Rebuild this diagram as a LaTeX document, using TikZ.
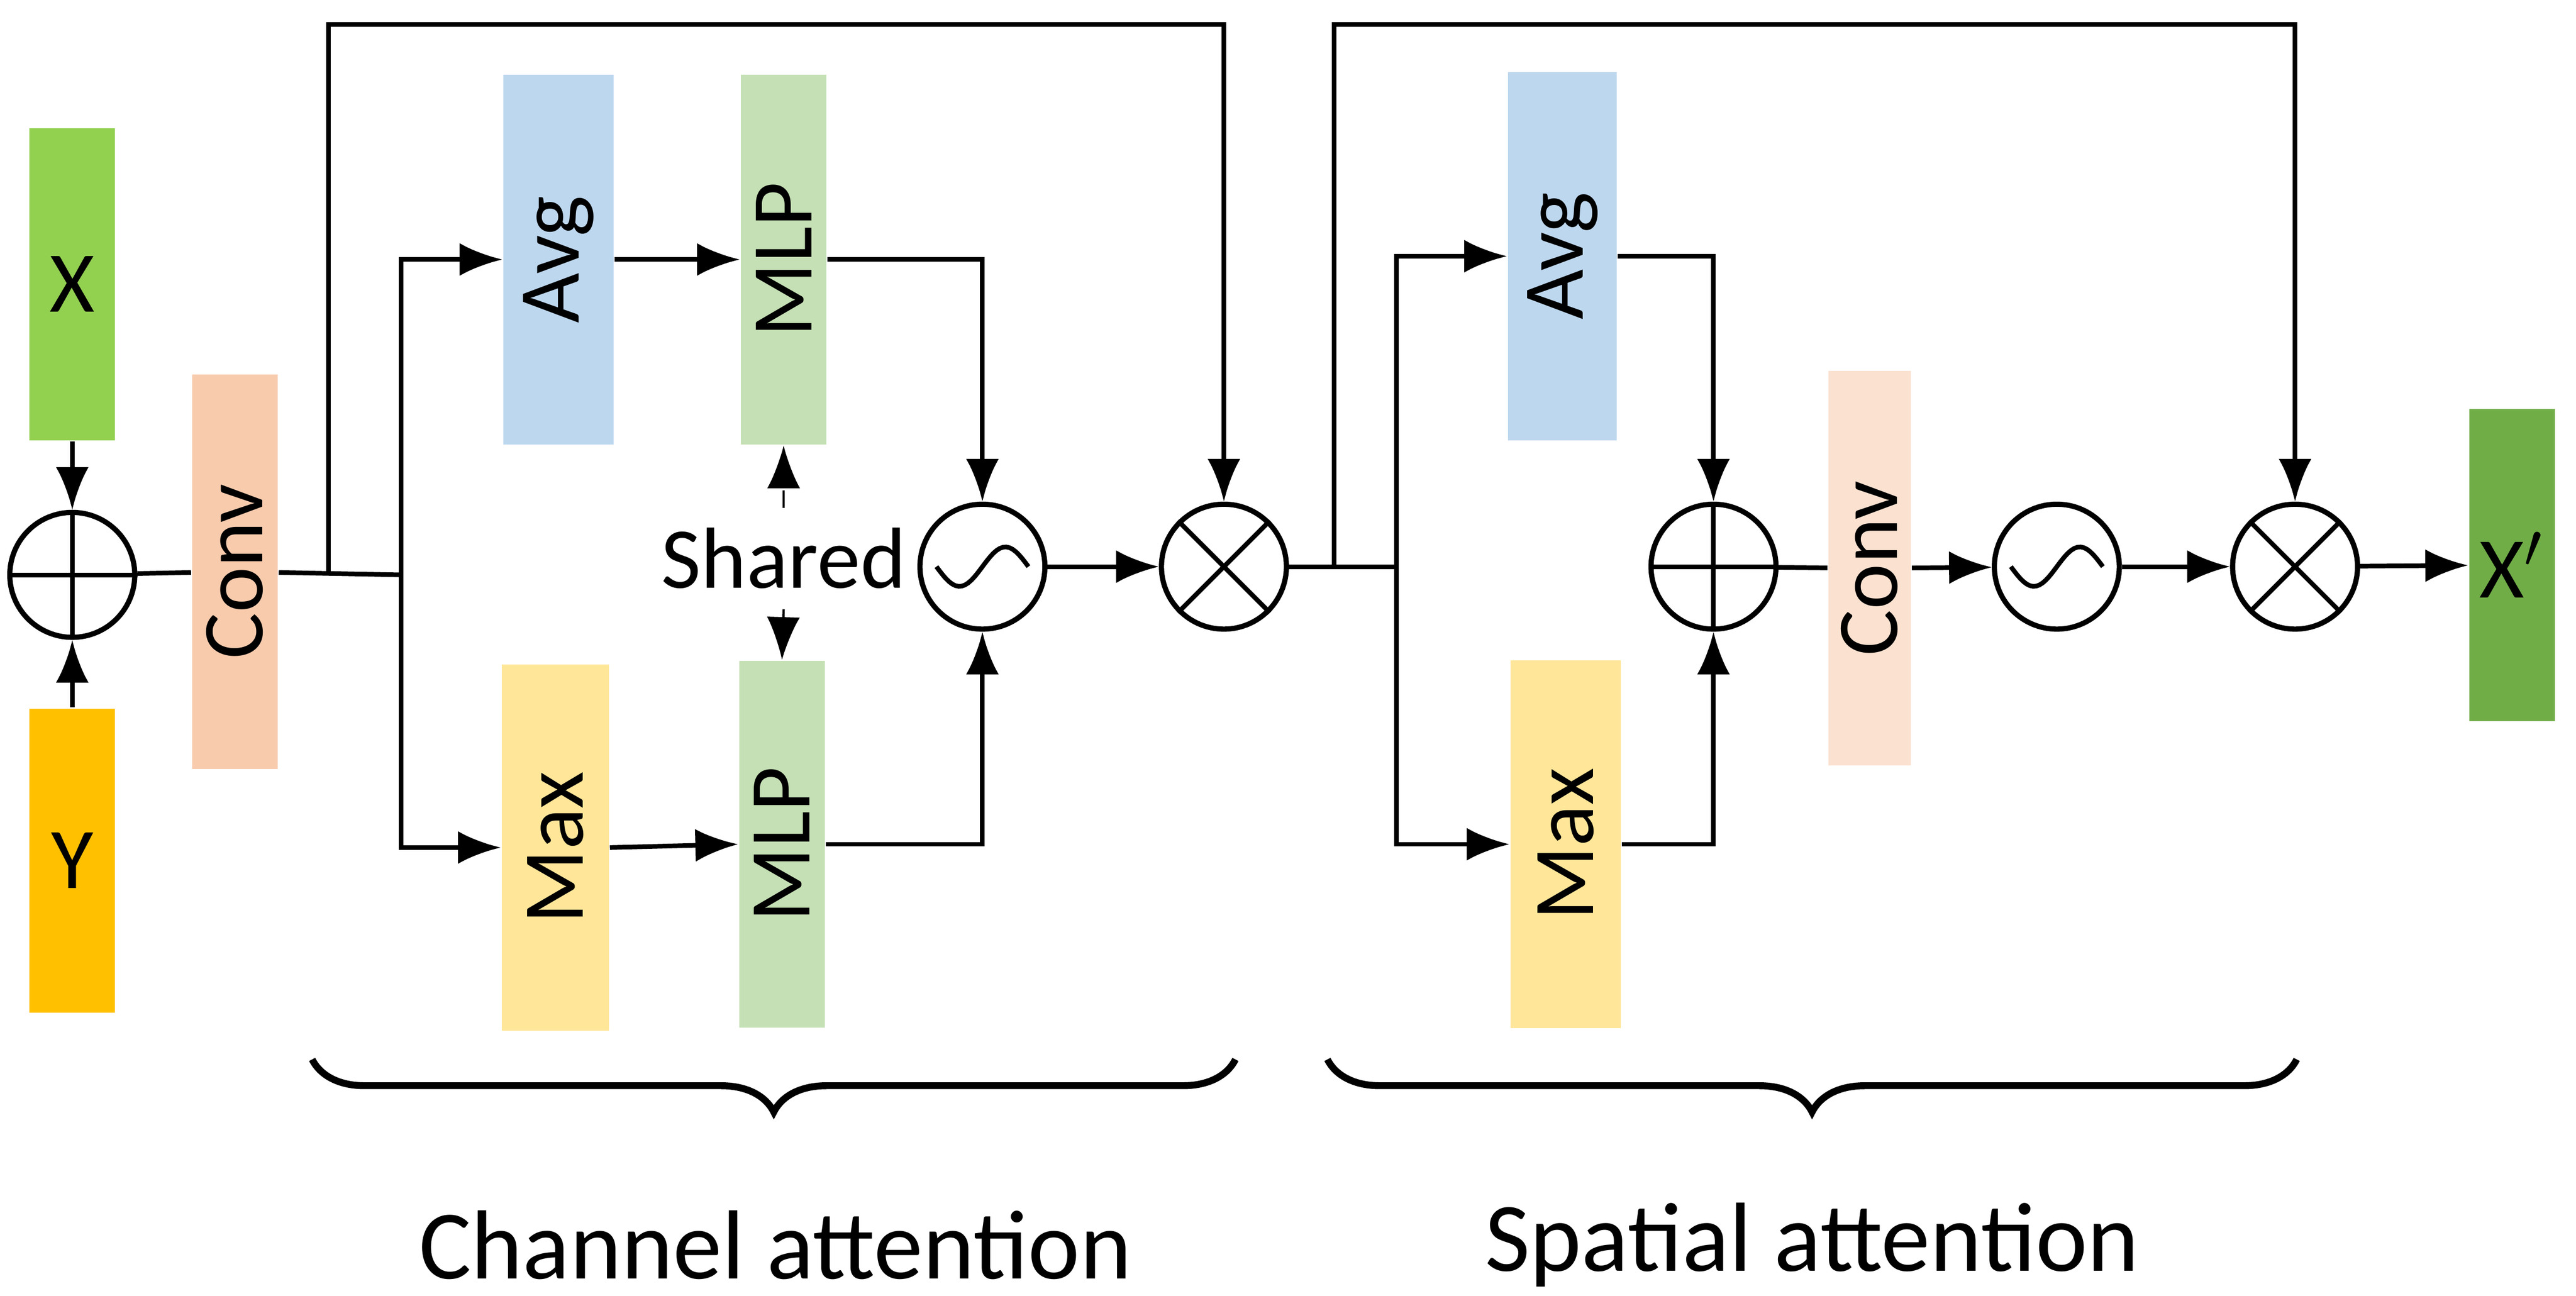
\documentclass[tikz,border=0pt]{standalone}
\usepackage{fontspec}
\setmainfont{Carlito}
\usetikzlibrary{decorations.pathreplacing,arrows.meta}
\definecolor{cX}{HTML}{92D050}
\definecolor{cY}{HTML}{FFC000}
\definecolor{cConv}{HTML}{F8CBAD}
\definecolor{cConvb}{HTML}{FBE1D0}
\definecolor{cAvg}{HTML}{BDD7EE}
\definecolor{cMLP}{HTML}{C5E0B4}
\definecolor{cMax}{HTML}{FFE699}
\definecolor{cOut}{HTML}{70AD47}
\newcommand{\lblfont}{\fontsize{15}{15}\selectfont}
\tikzset{
  blk/.style={inner sep=0pt, minimum width=0.52cm, minimum height=#1, font=\lblfont},
  vt/.style={label={[rotate=90,font=\lblfont]center:#1}},
  op/.style={draw, circle, line width=0.9pt, minimum size=0.76cm, inner sep=0pt},
  ar/.style={-{Latex[length=2.6mm,width=2mm]}, line width=0.8pt},
  ln/.style={line width=0.8pt},
}
\begin{document}
\begin{tikzpicture}[x=0.01cm,y=-0.01cm]
\useasboundingbox (0,0) rectangle (1568,789);

% inputs
\node[blk=1.9cm, fill=cX] (x) at (44,173) {X};
\node[blk=1.85cm, fill=cY] (y) at (44,524) {Y};
\node[op] (add1) at (44,350) {};
\draw[ln] (add1.north) -- (add1.south) (add1.west) -- (add1.east);
\node[blk=2.4cm, fill=cConv, vt=Conv] (conv1) at (143,348) {};

% channel attention
\node[blk=2.25cm, minimum width=0.67cm, fill=cAvg, vt=Avg] (avg1) at (340,158) {};
\node[blk=2.23cm, minimum width=0.65cm, fill=cMax, vt=Max] (max1) at (338,516) {};
\node[blk=2.25cm, fill=cMLP, vt=MLP] (mlp1) at (477,158) {};
\node[blk=2.23cm, fill=cMLP, vt=MLP] (mlp2) at (476,514) {};
\node[font=\lblfont] (shared) at (477,340) {Shared};
\node[op] (sig1) at (598,345) {};
\draw[ln, shift={(sig1)}] plot[domain=-1:1, samples=30] (\x*28,{-12*sin(\x*180)});
\node[op] (mul1) at (745,345) {};
\draw[ln] (mul1.north west) -- (mul1.south east) (mul1.north east) -- (mul1.south west);

% spatial attention
\node[blk=2.24cm, minimum width=0.66cm, fill=cAvg, vt=Avg] (avg2) at (951,156) {};
\node[blk=2.24cm, minimum width=0.67cm, fill=cMax, vt=Max] (max2) at (953,514) {};
\node[op] (add2) at (1043,345) {};
\draw[ln] (add2.north) -- (add2.south) (add2.west) -- (add2.east);
\node[blk=2.4cm, minimum width=0.5cm, fill=cConvb, vt=Conv] (conv2) at (1138,346) {};
\node[op] (sig2) at (1252,345) {};
\draw[ln, shift={(sig2)}] plot[domain=-1:1, samples=30] (\x*28,{-12*sin(\x*180)});
\node[op] (mul2) at (1397,345) {};
\draw[ln] (mul2.north west) -- (mul2.south east) (mul2.north east) -- (mul2.south west);
\node[blk=1.9cm, fill=cOut] (out) at (1529,344) {X$'$};

% connectors
\coordinate (j1) at (200,350);
\coordinate (j2) at (244,350);
\coordinate (j3) at (812,345);
\coordinate (j4) at (850,345);
\draw[ar] (x) -- (add1);
\draw[ar] (y) -- (add1);
\draw[ln] (add1) -- (conv1);
\draw[ln] (conv1) -- (j2);
\draw[ar] (j1) |- (200,15) -| (mul1);
\draw[ar] (j2) |- (avg1);
\draw[ar] (j2) |- (max1);
\draw[ar] (avg1) -- (mlp1);
\draw[ar] (max1.east) -- (mlp2.west);
\draw[ar] (mlp1) -| (sig1);
\draw[ar] (mlp2) -| (sig1);
\draw[ar, dashed, thin] (shared.north) -- (mlp1.south);
\draw[ar, dashed, thin] (shared.south) -- (mlp2.north);
\draw[ar] (sig1) -- (mul1);
\draw[ln] (mul1) -- (j4);
\draw[ar] (j3) |- (812,15) -| (mul2);
\draw[ar] (j4) |- (avg2);
\draw[ar] (j4) |- (max2);
\draw[ar] (avg2) -| (add2);
\draw[ar] (max2) -| (add2);
\draw[ln] (add2) -- (conv2);
\draw[ar] (conv2) -- (sig2);
\draw[ar] (sig2) -- (mul2);
\draw[ar] (mul2) -- (out);

% braces
\draw[line width=1.2pt, decorate, decoration={brace, mirror, amplitude=0.32cm}] (190,645) -- (752,645);
\draw[line width=1.2pt, decorate, decoration={brace, mirror, amplitude=0.32cm}] (808,645) -- (1398,645);
\node[font=\fontsize{17}{17}\selectfont] (t1) at (472,758) {Channel attention};
\node[font=\fontsize{17}{17}\selectfont] (t2) at (1103,758) {Spatial attention};
\end{tikzpicture}
\end{document}
